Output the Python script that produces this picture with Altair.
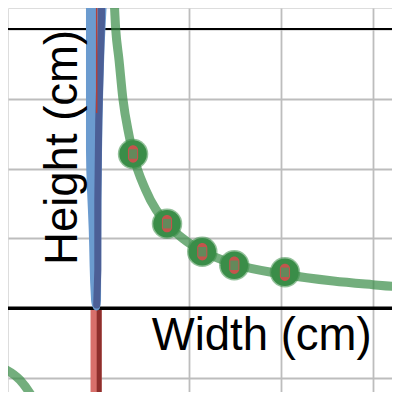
import altair as alt
import pandas as pd

# ---- data (grid unit = 1) ----
X_DOMAIN = [-0.957, 3.204]
Y_DOMAIN = [-1.201, 4.301]
grid_x = [0, 1, 2, 3]
grid_y = [-1, 0, 1, 2, 3, 4]

# green hyperbola, right branch
curve_r_x = [0.186, 0.192, 0.210, 0.246, 0.288, 0.354, 0.398, 0.535, 0.766, 0.961, 1.148, 1.495, 2.044, 2.568, 2.995, 3.290, 3.400]
curve_r_y = [4.487, 4.415, 3.999, 3.556, 3.001, 2.481, 2.209, 1.693, 1.208, 0.975, 0.818, 0.632, 0.482, 0.389, 0.337, 0.305, 0.296]
# green hyperbola, left branch
curve_l_x = [-1.152, -1.043, -0.827, -0.686, -0.632]
curve_l_y = [-0.756, -0.835, -1.030, -1.290, -1.420]

# measured points
pt_x = [0.398, 0.766, 1.148, 1.495, 2.044]
pt_y = [2.209, 1.211, 0.809, 0.615, 0.514]

# blue narrow curve (band edges by height)
blue_y = [4.487, 4.415, 2.266, 1.120, 0.117, -0.011, -0.035]
blue_left = [-0.114, -0.112, -0.112, -0.082, -0.057, -0.030, -0.002]
blue_right = [0.121, 0.116, 0.062, 0.054, 0.051, 0.035, 0.006]
dark_x = [0.056, 0.056, 0.026, 0.016, 0.016, 0.004]
dark_y = [4.487, 4.129, 2.696, 1.550, 0.547, 0.046]

# red lines
red_top_x = [0.004, 0.004]
red_top_y = [4.487, 2.797]
red_low_x = [-0.003, -0.003]
red_low_y = [0.0, -1.45]
red_dark_x = [0.031, 0.031]

# black lines
black_y = [0, 4]

# labels
lab_w = ["Width (cm)"]
lab_w_x = [0.600]
lab_w_y = [-0.599]
lab_h = ["Height (cm)"]
lab_h_x = [-0.212]
lab_h_y = [0.619]

xs = alt.Scale(domain=X_DOMAIN, nice=False, zero=False)
ys = alt.Scale(domain=Y_DOMAIN, nice=False, zero=False)
xaxis = alt.Axis(values=grid_x, grid=True, gridColor="#bdbdbd", gridWidth=1.8,
                 domain=False, ticks=False, labels=False, title=None)
yaxis = alt.Axis(values=grid_y, grid=True, gridColor="#bdbdbd", gridWidth=1.8,
                 domain=False, ticks=False, labels=False, title=None)


def X(f):
    return alt.X(f, type="quantitative", scale=xs, axis=xaxis)


def Y(f):
    return alt.Y(f, type="quantitative", scale=ys, axis=yaxis)


def seq(xv, yv):
    return pd.DataFrame({"x": xv, "y": yv, "i": list(range(len(xv)))})


base_df = pd.DataFrame({"x": grid_x[:1], "y": grid_y[:1]})
grid = alt.Chart(base_df).mark_point(opacity=0).encode(x=X("x"), y=Y("y"))

axis0 = alt.Chart(pd.DataFrame({"y": black_y[:1]})).mark_rule(color="black", strokeWidth=3.5).encode(y=Y("y"))
line4 = alt.Chart(pd.DataFrame({"y": black_y[1:]})).mark_rule(color="black", strokeWidth=2).encode(y=Y("y"))

red_low = alt.Chart(seq(red_low_x, red_low_y)).mark_line(color="#d8706b", strokeWidth=11, clip=True).encode(
    x=X("x"), y=Y("y"), order="i:Q")
red_dark = alt.Chart(seq(red_dark_x, red_low_y)).mark_line(color="#8e2f2c", strokeWidth=5, clip=True).encode(
    x=X("x"), y=Y("y"), order="i:Q")

blue_df = pd.DataFrame({"y": blue_y, "l": blue_left, "r": blue_right})
blue = alt.Chart(blue_df).mark_area(orient="horizontal", color="#6b9bcf", interpolate="monotone", clip=True).encode(
    y=Y("y"), x=X("l"), x2="r")
dark = alt.Chart(seq(dark_x, dark_y)).mark_line(color="#4c5f96", strokeWidth=7, strokeCap="round", clip=True).encode(
    x=X("x"), y=Y("y"), order="i:Q")
red_top = alt.Chart(seq(red_top_x, red_top_y)).mark_line(color="#b3413b", strokeWidth=1.5, clip=True).encode(
    x=X("x"), y=Y("y"), order="i:Q")

green_r = alt.Chart(seq(curve_r_x, curve_r_y)).mark_line(color="#388c46", opacity=0.7, strokeWidth=9,
                                                         interpolate="monotone", clip=True).encode(
    x=X("x"), y=Y("y"), order="i:Q")
green_l = alt.Chart(seq(curve_l_x, curve_l_y)).mark_line(color="#388c46", opacity=0.7, strokeWidth=9,
                                                         interpolate="monotone", clip=True).encode(
    x=X("x"), y=Y("y"), order="i:Q")

pts_df = seq(pt_x, pt_y)
capsule = "M-0.588,-0.412A0.588,0.588,0,0,1,0.588,-0.412L0.588,0.412A0.588,0.588,0,0,1,-0.588,0.412Z"
midrect = "M-0.842,-1L0.842,-1L0.842,1L-0.842,1Z"
halo = alt.Chart(pts_df).mark_point(shape="circle", filled=True, size=930, color="#388c46", opacity=0.55,
                                    strokeWidth=0).encode(x=X("x"), y=Y("y"))
circles = alt.Chart(pts_df).mark_point(shape="circle", filled=True, size=760, color="#3a8d48", opacity=1,
                                       strokeWidth=0).encode(x=X("x"), y=Y("y"))
caps = alt.Chart(pts_df).mark_point(shape=capsule, filled=True, size=300, color="#c4544c", opacity=1,
                                    strokeWidth=0).encode(x=X("x"), y=Y("y"))
mids = alt.Chart(pts_df).mark_point(shape=midrect, filled=True, size=90, color="#64895b", opacity=1,
                                    strokeWidth=0).encode(x=X("x"), y=Y("y"))

txt_w = alt.Chart(pd.DataFrame({"x": lab_w_x, "y": lab_w_y, "t": lab_w})).mark_text(
    align="left", baseline="alphabetic", fontSize=45.5, font="Liberation Sans", color="black").encode(
    x=X("x"), y=Y("y"), text="t:N")
txt_h = alt.Chart(pd.DataFrame({"x": lab_h_x, "y": lab_h_y, "t": lab_h})).mark_text(
    align="left", baseline="alphabetic", fontSize=45.5, font="Liberation Sans", color="black", angle=270).encode(
    x=X("x"), y=Y("y"), text="t:N")

chart = alt.layer(
    grid, red_low, red_dark, axis0, line4, blue, dark, red_top,
    green_r, green_l, halo, circles, caps, mids, txt_w, txt_h
).properties(
    width=384, height=384, padding=0, autosize=alt.AutoSizeParams(type="none")
).configure_view(strokeWidth=0).configure(background="white")

chart.save("out.html", embed_options={"renderer": "svg", "actions": False})
